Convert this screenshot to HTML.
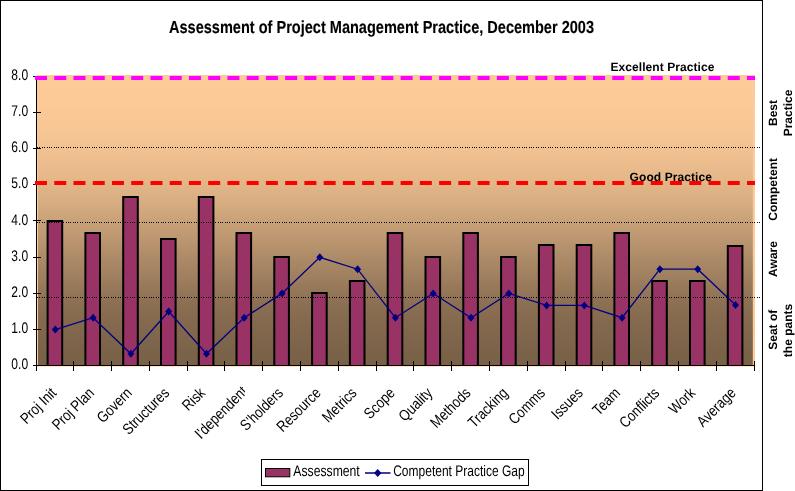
<!DOCTYPE html>
<html lang="en"><head><meta charset="utf-8"><title>Assessment of Project Management Practice</title>
<style>html,body{margin:0;padding:0;background:#fff}body{width:795px;height:491px;overflow:hidden}svg{display:block}text{font-family:"Liberation Sans",Arial,sans-serif;fill:#000;text-rendering:geometricPrecision}.n{font-size:15.33px}.b{font-weight:bold;font-size:12px}</style></head><body>
<svg width="795" height="491" viewBox="0 0 795 491">
<defs><linearGradient id="g" x1="0" y1="0" x2="0" y2="1"><stop offset="0" stop-color="#FDCB98"/><stop offset="0.1" stop-color="#FCCA97"/><stop offset="0.19" stop-color="#F7C694"/><stop offset="0.25" stop-color="#F2C291"/><stop offset="0.31" stop-color="#EBBC8D"/><stop offset="0.38" stop-color="#E1B587"/><stop offset="0.448" stop-color="#D5AB80"/><stop offset="0.55" stop-color="#BF9972"/><stop offset="0.655" stop-color="#A78664"/><stop offset="0.73" stop-color="#97795A"/><stop offset="0.793" stop-color="#8B6F53"/><stop offset="0.85" stop-color="#84694E"/><stop offset="0.897" stop-color="#7F664C"/><stop offset="0.95" stop-color="#7B6349"/><stop offset="1" stop-color="#796148"/></linearGradient><clipPath id="c5"><rect x="150" y="370" width="95" height="100"/></clipPath></defs>
<rect x="0" y="0" width="795" height="491" fill="#fff"/>
<rect x="0.5" y="0.5" width="762" height="490" fill="none" stroke="#000" stroke-width="1"/>
<rect x="37" y="75" width="718" height="291.5" fill="#FDCB98"/>
<rect x="38" y="75.5" width="714.8" height="290" fill="url(#g)"/>
<g fill="#993366" stroke="#000" stroke-width="2">
<path d="M47.6 365V221.0H62.2V365"/>
<path d="M85.4 365V233.0H100.0V365"/>
<path d="M123.2 365V197.0H137.8V365"/>
<path d="M161.0 365V239.0H175.6V365"/>
<path d="M198.8 365V197.0H213.4V365"/>
<path d="M236.5 365V233.0H251.1V365"/>
<path d="M274.3 365V257.0H288.9V365"/>
<path d="M312.1 365V293.0H326.7V365"/>
<path d="M349.9 365V281.0H364.5V365"/>
<path d="M387.7 365V233.0H402.3V365"/>
<path d="M425.5 365V257.0H440.1V365"/>
<path d="M463.3 365V233.0H477.9V365"/>
<path d="M501.1 365V257.0H515.7V365"/>
<path d="M538.9 365V245.0H553.5V365"/>
<path d="M576.7 365V245.0H591.3V365"/>
<path d="M614.4 365V233.0H629.0V365"/>
<path d="M652.2 365V281.0H666.8V365"/>
<path d="M690.0 365V281.0H704.6V365"/>
<path d="M727.8 365V246.0H742.4V365"/>
</g>
<g stroke="#000" stroke-width="1" stroke-dasharray="1 1.375" shape-rendering="crispEdges">
<line x1="37" y1="147.5" x2="759.6" y2="147.5"/>
<line x1="37" y1="222.5" x2="759.6" y2="222.5"/>
<line x1="37" y1="297.5" x2="759.6" y2="297.5"/>
</g>
<g stroke="#000" stroke-width="1" shape-rendering="crispEdges">
<line x1="36.5" y1="76" x2="36.5" y2="371"/>
<line x1="33" y1="365.5" x2="755" y2="365.5"/>
<line x1="33" y1="365.5" x2="41" y2="365.5"/>
<line x1="33" y1="329.5" x2="41" y2="329.5"/>
<line x1="33" y1="293.5" x2="41" y2="293.5"/>
<line x1="33" y1="257.5" x2="41" y2="257.5"/>
<line x1="33" y1="220.5" x2="41" y2="220.5"/>
<line x1="33" y1="184.5" x2="41" y2="184.5"/>
<line x1="33" y1="148.5" x2="41" y2="148.5"/>
<line x1="33" y1="112.5" x2="41" y2="112.5"/>
<line x1="33" y1="76.5" x2="41" y2="76.5"/>
<line x1="73.5" y1="361" x2="73.5" y2="371"/>
<line x1="111.5" y1="361" x2="111.5" y2="371"/>
<line x1="149.5" y1="361" x2="149.5" y2="371"/>
<line x1="187.5" y1="361" x2="187.5" y2="371"/>
<line x1="224.5" y1="361" x2="224.5" y2="371"/>
<line x1="262.5" y1="361" x2="262.5" y2="371"/>
<line x1="300.5" y1="361" x2="300.5" y2="371"/>
<line x1="338.5" y1="361" x2="338.5" y2="371"/>
<line x1="376.5" y1="361" x2="376.5" y2="371"/>
<line x1="413.5" y1="361" x2="413.5" y2="371"/>
<line x1="451.5" y1="361" x2="451.5" y2="371"/>
<line x1="489.5" y1="361" x2="489.5" y2="371"/>
<line x1="527.5" y1="361" x2="527.5" y2="371"/>
<line x1="565.5" y1="361" x2="565.5" y2="371"/>
<line x1="602.5" y1="361" x2="602.5" y2="371"/>
<line x1="640.5" y1="361" x2="640.5" y2="371"/>
<line x1="678.5" y1="361" x2="678.5" y2="371"/>
<line x1="716.5" y1="361" x2="716.5" y2="371"/>
<line x1="754.5" y1="361" x2="754.5" y2="371"/>
</g>
<line x1="35" y1="78" x2="755" y2="78" stroke="#FF00FF" stroke-width="4" stroke-dasharray="12 7.243"/>
<line x1="35" y1="183" x2="755" y2="183" stroke="#FF0000" stroke-width="4" stroke-dasharray="12 7.243"/>
<polyline fill="none" stroke="#000080" stroke-width="1.3" points="55.3,329.6 93.1,317.7 130.9,353.8 168.7,311.5 206.5,353.8 244.2,317.7 282.0,293.4 319.8,257.3 357.6,269.2 395.4,317.7 433.2,293.4 471.0,317.7 508.8,293.4 546.6,305.4 584.3,305.4 622.1,317.7 659.9,269.2 697.7,269.2 735.5,305.0"/>
<g fill="#000080">
<path d="M55.3 325.6L58.8 329.6L55.3 333.6L51.8 329.6Z"/>
<path d="M93.1 313.7L96.6 317.7L93.1 321.7L89.6 317.7Z"/>
<path d="M130.9 349.8L134.4 353.8L130.9 357.8L127.4 353.8Z"/>
<path d="M168.7 307.5L172.2 311.5L168.7 315.5L165.2 311.5Z"/>
<path d="M206.5 349.8L210.0 353.8L206.5 357.8L203.0 353.8Z"/>
<path d="M244.2 313.7L247.7 317.7L244.2 321.7L240.7 317.7Z"/>
<path d="M282.0 289.4L285.5 293.4L282.0 297.4L278.5 293.4Z"/>
<path d="M319.8 253.3L323.3 257.3L319.8 261.3L316.3 257.3Z"/>
<path d="M357.6 265.2L361.1 269.2L357.6 273.2L354.1 269.2Z"/>
<path d="M395.4 313.7L398.9 317.7L395.4 321.7L391.9 317.7Z"/>
<path d="M433.2 289.4L436.7 293.4L433.2 297.4L429.7 293.4Z"/>
<path d="M471.0 313.7L474.5 317.7L471.0 321.7L467.5 317.7Z"/>
<path d="M508.8 289.4L512.3 293.4L508.8 297.4L505.3 293.4Z"/>
<path d="M546.6 301.4L550.1 305.4L546.6 309.4L543.1 305.4Z"/>
<path d="M584.3 301.4L587.8 305.4L584.3 309.4L580.8 305.4Z"/>
<path d="M622.1 313.7L625.6 317.7L622.1 321.7L618.6 317.7Z"/>
<path d="M659.9 265.2L663.4 269.2L659.9 273.2L656.4 269.2Z"/>
<path d="M697.7 265.2L701.2 269.2L697.7 273.2L694.2 269.2Z"/>
<path d="M735.5 301.0L739.0 305.0L735.5 309.0L732.0 305.0Z"/>
</g>
<text x="169" y="32.5" font-size="17.5" font-weight="bold" stroke="#000" stroke-width="0.12" textLength="425" lengthAdjust="spacingAndGlyphs">Assessment of Project Management Practice, December 2003</text>
<text class="n" transform="translate(28.1 369.0) scale(0.785 1)" text-anchor="end">0.0</text>
<text class="n" transform="translate(28.1 332.9) scale(0.785 1)" text-anchor="end">1.0</text>
<text class="n" transform="translate(28.1 296.8) scale(0.785 1)" text-anchor="end">2.0</text>
<text class="n" transform="translate(28.1 260.6) scale(0.785 1)" text-anchor="end">3.0</text>
<text class="n" transform="translate(28.1 224.5) scale(0.785 1)" text-anchor="end">4.0</text>
<text class="n" transform="translate(28.1 188.4) scale(0.785 1)" text-anchor="end">5.0</text>
<text class="n" transform="translate(28.1 152.2) scale(0.785 1)" text-anchor="end">6.0</text>
<text class="n" transform="translate(28.1 116.1) scale(0.785 1)" text-anchor="end">7.0</text>
<text class="n" transform="translate(28.1 80.0) scale(0.785 1)" text-anchor="end">8.0</text>
<text font-size="15.33" transform="translate(57.3 393.9) rotate(-45) scale(0.84 1)" text-anchor="end">Proj Init</text>
<text font-size="15.33" transform="translate(95.1 393.9) rotate(-45) scale(0.84 1)" text-anchor="end">Proj Plan</text>
<text font-size="15.33" transform="translate(132.9 393.9) rotate(-45) scale(0.84 1)" text-anchor="end">Govern</text>
<text font-size="15.33" transform="translate(170.2 393.9) rotate(-45) scale(0.84 1)" text-anchor="end">Structures</text>
<text font-size="15.33" transform="translate(206.0 393.9) rotate(-45) scale(0.84 1)" text-anchor="end">Risk</text>
<g clip-path="url(#c5)"><text font-size="15.33" transform="translate(248.2 392.4) rotate(-45) scale(0.84 1)" text-anchor="end">I'dependent</text></g>
<text font-size="15.33" transform="translate(284.0 393.9) rotate(-45) scale(0.84 1)" text-anchor="end">S'holders</text>
<text font-size="15.33" transform="translate(321.8 393.9) rotate(-45) scale(0.84 1)" text-anchor="end">Resource</text>
<text font-size="15.33" transform="translate(357.6 393.9) rotate(-45) scale(0.84 1)" text-anchor="end">Metrics</text>
<text font-size="15.33" transform="translate(395.9 393.9) rotate(-45) scale(0.84 1)" text-anchor="end">Scope</text>
<text font-size="15.33" transform="translate(433.2 393.9) rotate(-45) scale(0.84 1)" text-anchor="end">Quality</text>
<text font-size="15.33" transform="translate(471.5 393.9) rotate(-45) scale(0.84 1)" text-anchor="end">Methods</text>
<text font-size="15.33" transform="translate(508.8 393.9) rotate(-45) scale(0.84 1)" text-anchor="end">Tracking</text>
<text font-size="15.33" transform="translate(546.1 393.9) rotate(-45) scale(0.84 1)" text-anchor="end">Comms</text>
<text font-size="15.33" transform="translate(583.8 393.9) rotate(-45) scale(0.84 1)" text-anchor="end">Issues</text>
<text font-size="15.33" transform="translate(621.1 393.9) rotate(-45) scale(0.84 1)" text-anchor="end">Team</text>
<text font-size="15.33" transform="translate(660.4 393.9) rotate(-45) scale(0.84 1)" text-anchor="end">Conflicts</text>
<text font-size="15.33" transform="translate(696.2 393.9) rotate(-45) scale(0.84 1)" text-anchor="end">Work</text>
<text font-size="15.33" transform="translate(736.8 393.9) rotate(-45) scale(0.84 1)" text-anchor="end">Average</text>
<text class="b" x="610.5" y="71" letter-spacing="0.07">Excellent Practice</text>
<text class="b" x="629.6" y="180.7" letter-spacing="0.08">Good Practice</text>
<text class="b" transform="translate(777.2 113) rotate(-90)" text-anchor="middle">Best</text>
<text class="b" transform="translate(792.0 113) rotate(-90)" text-anchor="middle">Practice</text>
<text class="b" transform="translate(777.2 189.3) rotate(-90)" text-anchor="middle">Competent</text>
<text class="b" transform="translate(777.2 259) rotate(-90)" text-anchor="middle">Aware</text>
<text class="b" transform="translate(777.2 329.8) rotate(-90)" text-anchor="middle">Seat of</text>
<text class="b" transform="translate(792.0 330.5) rotate(-90)" text-anchor="middle">the pants</text>
<rect x="261.5" y="459.5" width="267" height="26" fill="#fff" stroke="#000" stroke-width="1"/>
<rect x="265.5" y="468.5" width="24.3" height="8.3" fill="#993366" stroke="#000" stroke-width="1"/>
<text font-size="15.33" transform="translate(293.3 475.8) scale(0.796 1)">Assessment</text>
<line x1="365" y1="473" x2="390.5" y2="473" stroke="#000080" stroke-width="1.5"/>
<path d="M377.7 469L381.4 473L377.7 477L374 473Z" fill="#000080"/>
<text font-size="15.33" transform="translate(393.2 475.8) scale(0.783 1)">Competent Practice Gap</text>
</svg></body></html>
